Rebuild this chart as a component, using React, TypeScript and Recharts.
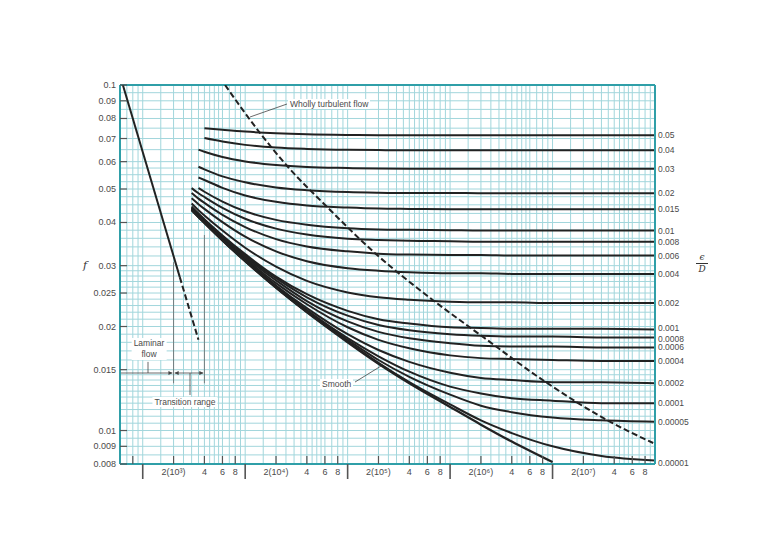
import { LineChart, Line, XAxis, YAxis, ReferenceLine } from "recharts"

// Reynolds numbers where the roughness curves were read
const RE = [3000, 3500, 4000, 6000, 1e4, 2e4, 4e4, 1e5, 2e5, 4e5, 1e6, 2e6, 4e6, 1e7, 3e7, 1e8]

// friction factor f for each relative roughness e/D (null = curve not drawn there)
const F_05 = [null, null, 0.075, 0.0742, 0.0733, 0.0725, 0.072, 0.0717, 0.0716, 0.0716, 0.0716, 0.0716, 0.0716, 0.0716, 0.0716, 0.0716]
const F_04 = [null, null, 0.0702, 0.0686, 0.0671, 0.0659, 0.0653, 0.0649, 0.0648, 0.0647, 0.0647, 0.0647, 0.0647, 0.0647, 0.0647, 0.0647]
const F_03 = [null, 0.065, 0.0641, 0.0619, 0.0601, 0.0587, 0.0579, 0.0575, 0.0573, 0.0572, 0.0572, 0.0572, 0.0572, 0.0572, 0.0572, 0.0572]
const F_02 = [null, 0.058, 0.057, 0.0544, 0.0523, 0.0505, 0.0496, 0.049, 0.0488, 0.0487, 0.0487, 0.0486, 0.0486, 0.0486, 0.0486, 0.0486]
const F_015 = [null, 0.054, 0.0531, 0.0504, 0.0479, 0.0459, 0.0448, 0.0442, 0.0439, 0.0438, 0.0437, 0.0437, 0.0437, 0.0437, 0.0437, 0.0437]
const F_01 = [null, 0.0503, 0.0491, 0.046, 0.0431, 0.0407, 0.0394, 0.0385, 0.0382, 0.0381, 0.038, 0.0379, 0.0379, 0.0379, 0.0379, 0.0379]
const F_008 = [0.0503, 0.0486, 0.0474, 0.0441, 0.041, 0.0384, 0.0369, 0.0359, 0.0356, 0.0354, 0.0353, 0.0352, 0.0352, 0.0352, 0.0352, 0.0352]
const F_006 = [0.0487, 0.0469, 0.0456, 0.0421, 0.0388, 0.0358, 0.0341, 0.033, 0.0325, 0.0323, 0.0322, 0.0322, 0.0321, 0.0321, 0.0321, 0.0321]
const F_004 = [0.047, 0.0452, 0.0438, 0.0401, 0.0364, 0.033, 0.0309, 0.0295, 0.029, 0.0287, 0.0285, 0.0285, 0.0284, 0.0284, 0.0284, 0.0284]
const F_002 = [0.0454, 0.0434, 0.0419, 0.0379, 0.0338, 0.0298, 0.0271, 0.0251, 0.0243, 0.0239, 0.0236, 0.0235, 0.0235, 0.0234, 0.0234, 0.0234]
const F_001 = [0.0445, 0.0425, 0.0409, 0.0367, 0.0324, 0.0279, 0.0248, 0.0222, 0.021, 0.0204, 0.0199, 0.0198, 0.0197, 0.0197, 0.0197, 0.0196]
const F_0008 = [0.0442, 0.0423, 0.0407, 0.0365, 0.0321, 0.0276, 0.0243, 0.0215, 0.0202, 0.0195, 0.019, 0.0188, 0.0187, 0.0187, 0.0186, 0.0186]
const F_0006 = [0.0441, 0.0421, 0.0405, 0.0362, 0.0318, 0.0272, 0.0237, 0.0207, 0.0193, 0.0185, 0.0179, 0.0176, 0.0175, 0.0175, 0.0174, 0.0174]
const F_0004 = [0.0439, 0.0419, 0.0403, 0.036, 0.0315, 0.0267, 0.0232, 0.0199, 0.0183, 0.0173, 0.0165, 0.0162, 0.0161, 0.016, 0.0159, 0.0159]
const F_0002 = [0.0437, 0.0417, 0.0401, 0.0357, 0.0312, 0.0263, 0.0226, 0.019, 0.0171, 0.0158, 0.0147, 0.0142, 0.014, 0.0138, 0.0138, 0.0137]
const F_0001 = [0.0436, 0.0416, 0.04, 0.0356, 0.031, 0.0261, 0.0223, 0.0185, 0.0164, 0.0148, 0.0134, 0.0128, 0.0124, 0.0122, 0.012, 0.012]
const F_00005 = [0.0435, 0.0415, 0.04, 0.0356, 0.031, 0.026, 0.0221, 0.0183, 0.016, 0.0143, 0.0127, 0.0118, 0.0113, 0.0109, 0.0107, 0.0106]
const F_00001 = [0.0435, 0.0415, 0.0399, 0.0355, 0.0309, 0.0259, 0.022, 0.0181, 0.0157, 0.0138, 0.0119, 0.0107, 0.00983, 0.009, 0.00844, 0.00819]
const F_SMOOTH = [0.0435, 0.0415, 0.0399, 0.0355, 0.0309, 0.0259, 0.022, 0.018, 0.0156, 0.0137, 0.0117, 0.0104, 0.00929, 0.0081, null, null]

const ROUGHNESS = ["0.05", "0.04", "0.03", "0.02", "0.015", "0.01", "0.008", "0.006", "0.004", "0.002", "0.001", "0.0008", "0.0006", "0.0004", "0.0002", "0.0001", "0.00005", "0.00001"]
const ROUGH_F = [F_05, F_04, F_03, F_02, F_015, F_01, F_008, F_006, F_004, F_002, F_001, F_0008, F_0006, F_0004, F_0002, F_0001, F_00005, F_00001]

// laminar line, solid then dashed through the critical zone
const LAM_RE = [640, 2300]
const LAM_F = [0.1, 0.0278]
const LAM_DASH_RE = [2300, 3500]
const LAM_DASH_F = [0.0278, 0.0183]

// wholly turbulent boundary (dashed)
const TURB_RE = [6360, 13960, 26180, 62900, 185000, 637000, 2.1e6, 8.83e6, 3.4e7, 9.6e7]
const TURB_F = [0.1, 0.0726, 0.0579, 0.0444, 0.0326, 0.0242, 0.01865, 0.01373, 0.01072, 0.0092]

const F_TICKS = [0.008, 0.009, 0.01, 0.015, 0.02, 0.025, 0.03, 0.04, 0.05, 0.06, 0.07, 0.08, 0.09, 0.1]
const RE_TICKS = [800, 1e3, 2e3, 4e3, 6e3, 8e3, 1e4, 2e4, 4e4, 6e4, 8e4, 1e5, 2e5, 4e5, 6e5, 8e5, 1e6, 2e6, 4e6, 6e6, 8e6, 1e7, 2e7, 4e7, 6e7, 8e7]

const GRID_F = [0.0085, 0.009, 0.0095, 0.01, 0.0105, 0.011, 0.0115, 0.012, 0.0125, 0.013, 0.0135, 0.014, 0.0145, 0.015, 0.016, 0.017, 0.018, 0.019, 0.02, 0.021, 0.022, 0.023, 0.024, 0.025, 0.026, 0.027, 0.028, 0.029, 0.03, 0.032, 0.034, 0.036, 0.038, 0.04, 0.0425, 0.045, 0.0475, 0.05, 0.0525, 0.055, 0.0575, 0.06, 0.065, 0.07, 0.075, 0.08, 0.085, 0.09, 0.095]
const GRID_STEPS = [1, 1.5, 2, 2.5, 3, 3.5, 4, 4.5, 5, 5.5, 6, 7, 8, 9]
const GRID_RE: number[] = []
for (const d of [100, 1e3, 1e4, 1e5, 1e6, 1e7]) {
  for (const s of GRID_STEPS) {
    const v = s * d
    if (v > 600 && v < 1e8) GRID_RE.push(v)
  }
}

const INK = "#222"
const TEAL = "#2f9fa8"
const GRID = "#a2d6dc"
const TICK = "#555"
const TXT = "#4a4a4a"
const FONT = "'Liberation Sans', Arial, sans-serif"
const SUP: Record<number, string> = { 2: "²", 3: "³", 4: "⁴", 5: "⁵", 6: "⁶", 7: "⁷" }
// small nudges so crowded e/D labels don't collide
const LABEL_NUDGE: Record<string, number> = { "0.001": -2, "0.0008": 1.5, "0.00001": 3 }

const curveKeys = ROUGHNESS.map((_, i) => `r${i}`)
const endLabels = new Map<number, string>()
ROUGH_F.forEach((f, i) => endLabels.set(f[f.length - 1] as number, ROUGHNESS[i]))
const END_F = ROUGH_F.map((f) => f[f.length - 1] as number)

const rows: any[] = [
  ...RE.map((re, i) => {
    const row: any = { re, smooth: F_SMOOTH[i] }
    ROUGH_F.forEach((f, k) => (row[curveKeys[k]] = f[i]))
    return row
  }),
  ...LAM_RE.map((re, i) => ({ re, lam: LAM_F[i] })),
  ...LAM_DASH_RE.map((re, i) => ({ re, lamDash: LAM_DASH_F[i] })),
  ...TURB_RE.map((re, i) => ({ re, turb: TURB_F[i] })),
].sort((a, b) => a.re - b.re)

function ReTick({ x, y, payload }: any) {
  const v = payload.value
  const exp = Math.floor(Math.log10(v) + 1e-9)
  const m = Math.round(v / Math.pow(10, exp))
  if (m === 1) {
    return <line x1={x} x2={x} y1={y} y2={y + 15} stroke={TICK} strokeWidth={1.6} />
  }
  const label = exp < 3 ? "" : m === 2 ? `2(10${SUP[exp]})` : String(m)
  return (
    <g>
      <line x1={x} x2={x} y1={y - 8} y2={y} stroke={TICK} strokeWidth={1.2} />
      {label && (
        <text x={x} y={y + 11} textAnchor="middle" fontSize={9} fill={TXT} fontFamily={FONT}>
          {label}
        </text>
      )}
    </g>
  )
}

function FTick({ x, y, payload }: any) {
  return (
    <g>
      <line x1={x + 4} x2={x + 11} y1={y} y2={y} stroke={TICK} strokeWidth={1.2} />
      <text x={x} y={y + 3} textAnchor="end" fontSize={9} fill={TXT} fontFamily={FONT}>
        {String(payload.value)}
      </text>
    </g>
  )
}

function EpsTick({ x, y, payload }: any) {
  const label = endLabels.get(payload.value) ?? ""
  return (
    <text x={x} y={y + 3 + (LABEL_NUDGE[label] ?? 0)} textAnchor="start" fontSize={8.5} fill={TXT} fontFamily={FONT}>
      {label}
    </text>
  )
}

function arrowShape(start: boolean, end: boolean) {
  return (p: any) => (
    <line
      x1={p.x1}
      y1={p.y1}
      x2={p.x2}
      y2={p.y2}
      stroke="#444"
      strokeWidth={0.8}
      markerStart={start ? "url(#ahs)" : undefined}
      markerEnd={end ? "url(#ahe)" : undefined}
    />
  )
}

const ann = (extra: any) => ({
  position: "absolute" as const,
  fontFamily: FONT,
  fontSize: 8.5,
  color: TXT,
  lineHeight: "10px",
  whiteSpace: "nowrap" as const,
  background: "#fff",
  padding: "0 2px",
  ...extra,
})

export default function App() {
  return (
    <div style={{ position: "relative", width: 752, height: 527 }}>
      <LineChart width={752} height={527} data={rows} margin={{ top: 77, right: 45, bottom: 41, left: 72 }}>
        <defs>
          <marker id="ahe" viewBox="0 0 6 6" refX="6" refY="3" markerWidth="5" markerHeight="5" orient="auto">
            <path d="M0,0 L6,3 L0,6 z" fill="#444" />
          </marker>
          <marker id="ahs" viewBox="0 0 6 6" refX="0" refY="3" markerWidth="5" markerHeight="5" orient="auto">
            <path d="M6,0 L0,3 L6,6 z" fill="#444" />
          </marker>
        </defs>
        {GRID_RE.map((v) => (
          <ReferenceLine key={`gx${v}`} yAxisId="f" x={v} stroke={GRID} strokeWidth={1} zIndex={-100} />
        ))}
        {GRID_F.map((v) => (
          <ReferenceLine key={`gy${v}`} yAxisId="f" y={v} stroke={GRID} strokeWidth={1} zIndex={-100} />
        ))}
        <XAxis
          dataKey="re"
          type="number"
          scale="log"
          domain={[600, 1e8]}
          allowDataOverflow
          ticks={RE_TICKS}
          interval={0}
          height={30}
          tickSize={0}
          tickMargin={0}
          tickLine={false}
          tick={ReTick}
          axisLine={{ stroke: TEAL, strokeWidth: 2 }}
        />
        <YAxis
          yAxisId="f"
          type="number"
          scale="log"
          domain={[0.008, 0.1]}
          allowDataOverflow
          ticks={F_TICKS}
          interval={0}
          width={40}
          tickSize={0}
          tickMargin={4}
          tickLine={false}
          tick={FTick}
          axisLine={{ stroke: TEAL, strokeWidth: 2 }}
        />
        <YAxis
          yAxisId="eps"
          orientation="right"
          type="number"
          scale="log"
          domain={[0.008, 0.1]}
          allowDataOverflow
          ticks={END_F}
          interval={0}
          width={60}
          tickSize={0}
          tickMargin={3}
          tickLine={false}
          tick={EpsTick}
          axisLine={{ stroke: TEAL, strokeWidth: 2 }}
        />
        <ReferenceLine yAxisId="f" y={0.1} stroke={TEAL} strokeWidth={2} />

        {/* transition-zone markers and pointers */}
        <ReferenceLine yAxisId="f" segment={[{ x: 2000, y: 0.0307 }, { x: 2000, y: 0.0137 }]} stroke="#666" strokeWidth={0.8} />
        <ReferenceLine yAxisId="f" segment={[{ x: 4000, y: 0.0368 }, { x: 4000, y: 0.0137 }]} stroke="#666" strokeWidth={0.8} />
        <ReferenceLine yAxisId="f" segment={[{ x: 600, y: 0.01467 }, { x: 1950, y: 0.01467 }]} shape={arrowShape(false, true)} />
        <ReferenceLine yAxisId="f" segment={[{ x: 2050, y: 0.01467 }, { x: 3900, y: 0.01467 }]} shape={arrowShape(true, true)} />
        <ReferenceLine yAxisId="f" segment={[{ x: 1126, y: 0.0158 }, { x: 1126, y: 0.01467 }]} stroke="#444" strokeWidth={0.8} />
        <ReferenceLine yAxisId="f" segment={[{ x: 2894, y: 0.01467 }, { x: 2894, y: 0.01267 }]} stroke="#444" strokeWidth={0.8} />
        <ReferenceLine yAxisId="f" segment={[{ x: 25600, y: 0.0881 }, { x: 11150, y: 0.0808 }]} stroke="#444" strokeWidth={0.8} />
        <ReferenceLine yAxisId="f" segment={[{ x: 118000, y: 0.01381 }, { x: 211800, y: 0.01537 }]} stroke="#444" strokeWidth={0.8} />

        {curveKeys.map((k) => (
          <Line
            key={k}
            yAxisId="f"
            dataKey={k}
            type="monotone"
            stroke={INK}
            strokeWidth={2}
            dot={false}
            activeDot={false}
            connectNulls
            isAnimationActive={false}
          />
        ))}
        <Line yAxisId="f" dataKey="smooth" type="monotone" stroke={INK} strokeWidth={2.3} dot={false} activeDot={false} connectNulls isAnimationActive={false} />
        <Line yAxisId="f" dataKey="lam" type="linear" stroke={INK} strokeWidth={2} dot={false} activeDot={false} connectNulls isAnimationActive={false} />
        <Line yAxisId="f" dataKey="lamDash" type="linear" stroke={INK} strokeWidth={2} strokeDasharray="6 3" dot={false} activeDot={false} connectNulls isAnimationActive={false} />
        <Line yAxisId="f" dataKey="turb" type="monotone" stroke={INK} strokeWidth={2} strokeDasharray="6 3" dot={false} activeDot={false} connectNulls isAnimationActive={false} />
      </LineChart>

      <div style={ann({ left: 280, top: 91 })}>Wholly turbulent flow</div>
      <div style={ann({ left: 312, top: 371 })}>Smooth</div>
      <div style={ann({ left: 141, top: 330, transform: "translateX(-50%)", textAlign: "center", lineHeight: "11px" })}>
        Laminar
        <br />
        flow
      </div>
      <div style={ann({ left: 177, top: 389, transform: "translateX(-50%)" })}>Transition range</div>
      <div style={{ position: "absolute", left: 75, top: 251, fontFamily: "'DejaVu Serif', serif", fontStyle: "italic", fontSize: 11, color: "#333" }}>
        f
      </div>
      <div
        style={{
          position: "absolute",
          left: 688,
          top: 245,
          width: 12,
          textAlign: "center",
          fontFamily: "'DejaVu Serif', serif",
          fontStyle: "italic",
          fontSize: 9,
          color: "#333",
          lineHeight: "9px",
        }}
      >
        <div>ϵ</div>
        <div style={{ borderTop: "0.8px solid #333", margin: "1px 0" }} />
        <div>D</div>
      </div>
    </div>
  )
}
